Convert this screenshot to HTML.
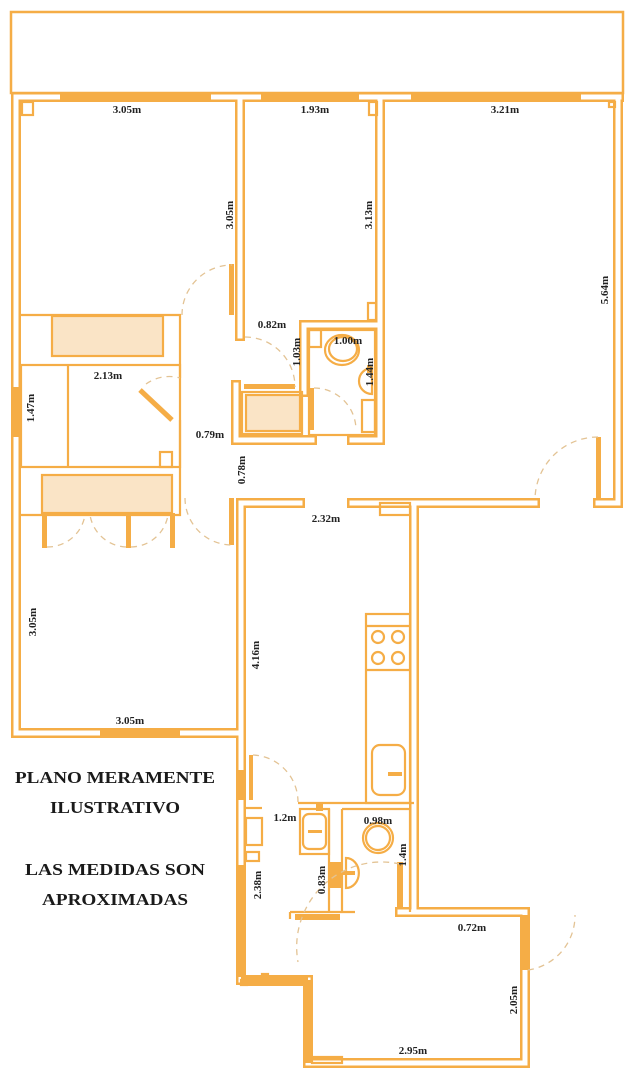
<!DOCTYPE html>
<html><head><meta charset="utf-8"><style>
html,body{margin:0;padding:0;background:#fff}
svg{display:block}
.t{font-family:"Liberation Serif",serif;font-weight:bold;font-size:11px;fill:#222;text-anchor:middle}
.big{font-family:"Liberation Serif",serif;font-weight:bold;font-size:17px;fill:#1a1a1a;text-anchor:middle}
</style></head><body>
<svg width="635" height="1080" viewBox="0 0 635 1080" xmlns="http://www.w3.org/2000/svg">
<defs>
<g id="walls" fill="none">
<path d="M16 97 H619"/>
<path d="M16 97 V733 H240"/>
<path d="M240 97 V336"/>
<path d="M380 97 V440 H352"/>
<path d="M304 325 H380 M304 325 V392"/>
<path d="M618 97 V503 H598"/>
<path d="M241 503 H300 M352 503 H535 M414 503 V912"/>
<path d="M241 503 V733 M241 733 V980 H308 V1063 H525 V912 H400"/>
<path d="M236 440 H312 M236 385 V440"/>
</g>
</defs>
<rect x="11" y="12" width="612" height="81" fill="none" stroke="#f5ad46" stroke-width="2.5"/>
<use href="#walls" stroke="#f5ad46" stroke-width="10" stroke-linecap="square"/>
<use href="#walls" stroke="#fff" stroke-width="5" stroke-linecap="square"/>

<g fill="none" stroke="#f5ad46" stroke-width="2.2">
<rect x="22" y="102" width="11" height="13"/>
<rect x="369" y="102" width="8" height="13"/>
<rect x="609" y="102" width="6" height="5"/>
<rect x="368" y="303" width="8" height="17"/>
<path d="M21 315 H180 V378"/>
<rect x="21" y="365" width="159" height="102"/>
<path d="M68 365 V467"/>
<rect x="160" y="452" width="12" height="15"/>
<path d="M180 420 V515 H21"/>
<rect x="309" y="330" width="66" height="105"/>
<rect x="309" y="330" width="12" height="17"/>
<ellipse cx="342" cy="350" rx="17" ry="15"/>
<ellipse cx="343" cy="349" rx="14" ry="12"/>
<path d="M372 368 A12 12 0 1 0 372 394 Z"/>
<rect x="362" y="400" width="13" height="32"/>
<rect x="242" y="392" width="60" height="42"/>
<rect x="380" y="503" width="30" height="12"/>
<rect x="366" y="614" width="44" height="189"/>
<path d="M366 626 H410 M366 670 H410"/>
<circle cx="378" cy="637" r="6"/><circle cx="398" cy="637" r="6"/>
<circle cx="378" cy="658" r="6"/><circle cx="398" cy="658" r="6"/>
<rect x="372" y="745" width="33" height="50" rx="8"/>
<path d="M298 803 H414"/>
<rect x="246" y="818" width="16" height="27"/>
<rect x="246" y="852" width="13" height="9"/>
<path d="M246 808 H262"/>
<rect x="300" y="809" width="29" height="45"/>
<rect x="303" y="814" width="23" height="35" rx="6"/>
<path d="M329 809 V912 M342 809 V912 M342 809 H410 M410 809 V912"/>
<circle cx="378" cy="838" r="15"/><circle cx="378" cy="838" r="12"/>
<path d="M346 858 A12 14 0 1 1 346 888 Z"/>
<path d="M290 912 H355 M290 912 V919"/>
<rect x="312" y="1057" width="30" height="6"/>
<rect x="241" y="980" width="6" height="5"/>
<rect x="262" y="974" width="6" height="6"/>
</g>
<g fill="#f5ad46">
<rect x="60" y="93" width="151" height="8"/>
<rect x="261" y="93" width="98" height="8"/>
<rect x="411" y="93" width="170" height="8"/>
<rect x="11" y="387" width="10" height="50"/>
<rect x="100" y="728" width="80" height="10"/>
<rect x="229" y="264" width="5" height="51"/>
<rect x="229" y="498" width="5" height="47"/>
<rect x="596" y="437" width="5" height="63"/>
<rect x="308" y="388" width="6" height="42"/>
<rect x="244" y="384" width="51" height="5"/>
<rect x="237" y="865" width="9" height="112"/>
<rect x="241" y="976" width="67" height="10"/>
<rect x="304" y="980" width="9" height="83"/>
<rect x="522" y="915" width="6" height="55"/>
<rect x="397" y="862" width="6" height="46"/>
<rect x="295" y="914" width="45" height="6"/>
<rect x="330" y="862" width="12" height="26"/>
<rect x="316" y="803" width="7" height="8"/>
<rect x="249" y="755" width="4" height="45"/>
<rect x="237" y="770" width="8" height="30"/>
<rect x="42" y="513" width="5" height="35"/>
<rect x="126" y="513" width="5" height="35"/>
<rect x="170" y="513" width="5" height="35"/>
<rect x="388" y="772" width="14" height="4"/>
<rect x="308" y="830" width="14" height="3"/>
<rect x="343" y="871" width="12" height="4"/>
<rect x="367" y="365" width="5" height="8"/>
</g>
<line x1="140" y1="390" x2="172" y2="420" stroke="#f5ad46" stroke-width="5"/>
<g fill="#fae4c6" stroke="#f5ad46" stroke-width="2.2">
<rect x="52" y="316" width="111" height="40"/>
<rect x="42" y="475" width="130" height="38"/>
<rect x="246" y="395" width="54" height="36"/>
</g>
<g fill="none" stroke="#e3c394" stroke-width="1.3" stroke-dasharray="6 5">
<path d="M182 315 A50 50 0 0 1 232 265"/>
<path d="M245 337 A50 50 0 0 1 295 387"/>
<path d="M314 388 A42 42 0 0 1 356 430"/>
<path d="M185 498 A47 47 0 0 0 232 545"/>
<path d="M146 384 A40 40 0 0 1 180 378"/>
<path d="M47 547 A38 38 0 0 0 85 515"/>
<path d="M126 547 A38 38 0 0 1 90 515"/>
<path d="M131 547 A38 38 0 0 0 168 515"/>
<path d="M598 437 A63 63 0 0 0 535 500"/>
<path d="M253 755 A47 47 0 0 1 298 802"/>
<path d="M400 864 A85 85 0 0 0 298 962"/>
<path d="M528 970 A55 55 0 0 0 575 915"/>
</g>
<g class="t">
<text x="127" y="113">3.05m</text>
<text x="315" y="113">1.93m</text>
<text x="505" y="113">3.21m</text>
<text x="272" y="328">0.82m</text>
<text x="348" y="344">1.00m</text>
<text x="108" y="379">2.13m</text>
<text x="210" y="438">0.79m</text>
<text x="326" y="522">2.32m</text>
<text x="130" y="724">3.05m</text>
<text x="285" y="821">1.2m</text>
<text x="378" y="824">0.98m</text>
<text x="472" y="931">0.72m</text>
<text x="413" y="1054">2.95m</text>
<text transform="translate(233,215) rotate(-90)">3.05m</text>
<text transform="translate(372,215) rotate(-90)">3.13m</text>
<text transform="translate(608,290) rotate(-90)">5.64m</text>
<text transform="translate(300,352) rotate(-90)">1.03m</text>
<text transform="translate(373,372) rotate(-90)">1.44m</text>
<text transform="translate(34,408) rotate(-90)">1.47m</text>
<text transform="translate(245,470) rotate(-90)">0.78m</text>
<text transform="translate(36,622) rotate(-90)">3.05m</text>
<text transform="translate(259,655) rotate(-90)">4.16m</text>
<text transform="translate(261,885) rotate(-90)">2.38m</text>
<text transform="translate(325,880) rotate(-90)">0.83m</text>
<text transform="translate(406,855) rotate(-90)">1.4m</text>
<text transform="translate(517,1000) rotate(-90)">2.05m</text>
</g>
<g class="big">
<text x="115" y="783" textLength="200" lengthAdjust="spacingAndGlyphs">PLANO MERAMENTE</text>
<text x="115" y="813" textLength="130" lengthAdjust="spacingAndGlyphs">ILUSTRATIVO</text>
<text x="115" y="875" textLength="180" lengthAdjust="spacingAndGlyphs">LAS MEDIDAS SON</text>
<text x="115" y="905" textLength="146" lengthAdjust="spacingAndGlyphs">APROXIMADAS</text>
</g>
</svg>
</body></html>
